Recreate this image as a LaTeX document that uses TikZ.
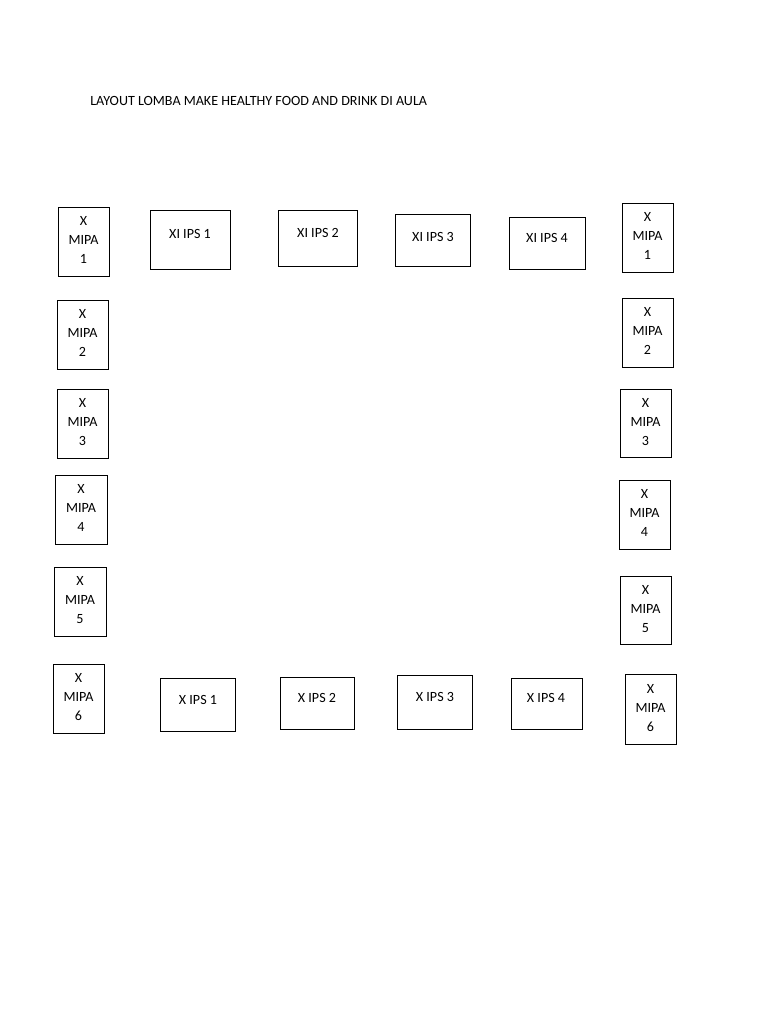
\documentclass[tikz,border=0pt]{standalone}
\usepackage{fontspec}
\setmainfont{Carlito}
\usetikzlibrary{positioning,fit}

\begin{document}
\begin{tikzpicture}[x=0.025cm, y=-0.025cm,
    seat/.style={draw, line width=0.6pt, inner sep=0pt},
    tag/.style={inner sep=0pt, align=center, font=\fontsize{10}{13.5}\selectfont},
    mipa/.style={tag, yshift=1pt}]
            \useasboundingbox (0,0) rectangle (768,1024);

            % title
            \node[tag, anchor=west] (title) at (90,101) {LAYOUT LOMBA MAKE HEALTHY FOOD AND DRINK DI AULA};

            % left column
            \node[seat, fit={(58,207) (109,276)}] (mipaL1) {};
            \node[seat, fit={(57,300) (108,369)}] (mipaL2) {};
            \node[seat, fit={(57,389) (108,458)}] (mipaL3) {};
            \node[seat, fit={(55,475) (107,544)}] (mipaL4) {};
            \node[seat, fit={(54,567) (106,636)}] (mipaL5) {};
            \node[seat, fit={(53,664) (104,733)}] (mipaL6) {};
            \foreach \i in {1,...,6}
                \node[mipa] (mipaL\i t) at (mipaL\i.center) {X\\MIPA\\\i};

            % top row
            \node[seat, fit={(150,210) (230,269)}] (xiIps1) {};
            \node[seat, fit={(278,210) (357,266)}] (xiIps2) {};
            \node[seat, fit={(395,214) (470,266)}] (xiIps3) {};
            \node[seat, fit={(509,217) (585,269)}] (xiIps4) {};
            \node[tag] (xiIps1t) at (190,234) {XI IPS 1};
            \node[tag] (xiIps2t) at (318,233) {XI IPS 2};
            \node[tag] (xiIps3t) at (433,237) {XI IPS 3};
            \node[tag] (xiIps4t) at (547,238) {XI IPS 4};

            % right column
            \node[seat, fit={(622,203) (673,272)}] (mipaR1) {};
            \node[seat, fit={(622,298) (673,367)}] (mipaR2) {};
            \node[seat, fit={(620,389) (671,457)}] (mipaR3) {};
            \node[seat, fit={(619,480) (670,549)}] (mipaR4) {};
            \node[seat, fit={(620,576) (671,644)}] (mipaR5) {};
            \node[seat, fit={(625,674) (676,744)}] (mipaR6) {};
            \foreach \i in {1,...,6}
                \node[mipa] (mipaR\i t) at (mipaR\i.center) {X\\MIPA\\\i};

            % bottom row
            \node[seat, fit={(160,678) (235,731)}] (xIps1) {};
            \node[seat, fit={(280,677) (354,729)}] (xIps2) {};
            \node[seat, fit={(397,675) (472,729)}] (xIps3) {};
            \node[seat, fit={(511,678) (582,729)}] (xIps4) {};
            \node[tag] (xIps1t) at (198,700) {X IPS 1};
            \node[tag] (xIps2t) at (317,698) {X IPS 2};
            \node[tag] (xIps3t) at (435,697) {X IPS 3};
            \node[tag] (xIps4t) at (546,698) {X IPS 4};
        \end{tikzpicture}
\end{document}
